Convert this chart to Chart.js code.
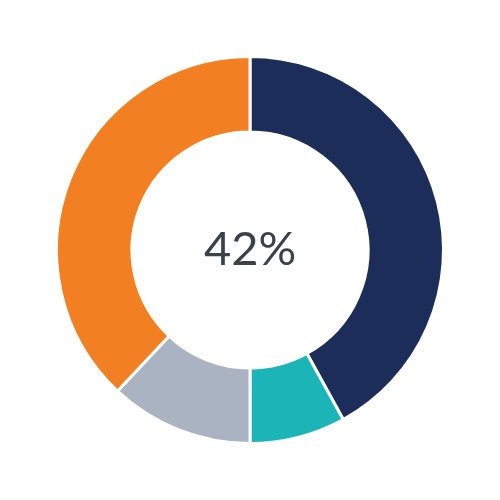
<!DOCTYPE html>
<html>
<head>
<meta charset="utf-8">
<script src="https://cdn.jsdelivr.net/npm/chart.js@4"></script>
<style>
  html, body { margin: 0; padding: 0; background: #fff; }
  #wrap { width: 500px; height: 500px; }
</style>
</head>
<body>
<div id="wrap"><canvas id="myChart"></canvas></div>
<script>
// data (percent)
const labels = ['Navy', 'Teal', 'Gray', 'Orange'];
const values = [42, 8, 12, 38];
const colors = ['#1c2d5a', '#1bb5b7', '#a9b3c1', '#f27f22'];
const centerLabel = values[0] + '%';

/* center text */
const centerText = {
  id: 'centerText',
  afterDraw(chart) {
    const ctx = chart.ctx;
    const meta = chart.getDatasetMeta(0).data[0];
    ctx.save();
    ctx.font = '400 47px Lato';
    ctx.fillStyle = '#3a4248';
    ctx.textAlign = 'center';
    ctx.textBaseline = 'middle';
    ctx.fillText(centerLabel, meta.x, meta.y);
    ctx.restore();
  }
};

const ctx = document.getElementById('myChart').getContext('2d');
const chart = new Chart(ctx, {
  type: 'doughnut',
  data: {
    labels: labels,
    datasets: [{
      data: values,
      backgroundColor: colors,
      borderColor: '#fff',
      borderWidth: 3
    }]
  },
  options: {
    responsive: true,
    maintainAspectRatio: false,
    animation: false,
    cutout: '61%',
    layout: { padding: 55 },
    plugins: {
      legend: { display: false },
      tooltip: { enabled: false }
    }
  },
  plugins: [centerText]
});
</script>
</body>
</html>
